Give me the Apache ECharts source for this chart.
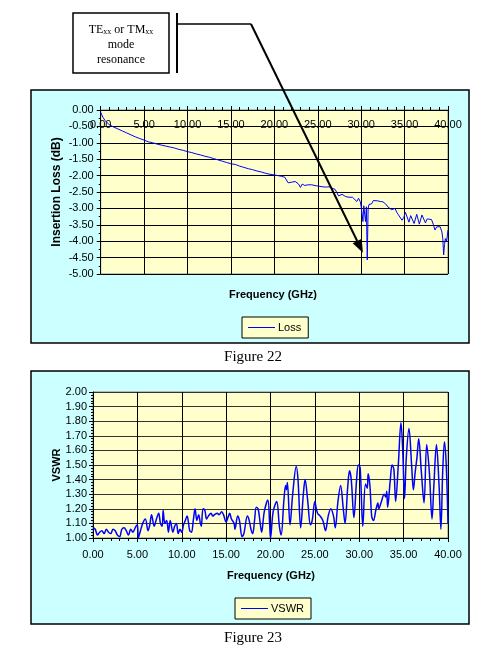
<!DOCTYPE html>
<html>
<head>
<meta charset="utf-8">
<script src="https://cdn.jsdelivr.net/npm/echarts@6/dist/echarts.min.js"></script>
<style>
html,body{margin:0;padding:0;background:#fff;}
#c{width:492px;height:658px;}
</style>
</head>
<body>
<div id="c"></div>
<script>
// ---------- DATA ----------
const xTickLabels = ['0.00','5.00','10.00','15.00','20.00','25.00','30.00','35.00','40.00'];

const lossFreq = [0,0.25,0.5,0.75,1,1.5,2,2.5,3,3.5,4,4.5,5,5.5,6,6.5,7,7.5,8,8.5,9,9.5,10,10.5,11,11.5,12,12.5,13,13.5,14,14.5,15,15.5,16,16.5,17,17.5,18,18.5,19,19.5,20,20.4,20.8,21.2,21.4,21.6,21.8,22.0,22.2,22.4,22.6,22.8,23.0,23.2,23.3,23.5,23.7,23.9,24.1,24.3,24.5,24.8,25.1,25.5,26.0,26.3,26.6,27.0,27.2,27.4,27.6,27.8,28.0,28.2,28.4,28.6,28.8,29.0,29.2,29.5,29.7,29.9,30.0,30.1,30.2,30.3,30.4,30.5,30.6,30.7,30.8,30.9,31.0,31.2,31.4,31.6,31.9,32.2,32.5,32.8,33.0,33.1,33.3,33.5,33.7,33.9,34.1,34.3,34.5,34.7,34.9,35.1,35.3,35.5,35.7,35.8,36.1,36.4,36.7,37.0,37.2,37.4,37.6,37.8,38.1,38.3,38.5,38.7,38.9,39.1,39.3,39.4,39.5,39.6,39.7,39.8,39.9,40.0];
const lossVal = [-0.07,-0.22,-0.32,-0.39,-0.45,-0.52,-0.58,-0.64,-0.70,-0.76,-0.82,-0.87,-0.92,-0.97,-1.00,-1.04,-1.07,-1.10,-1.13,-1.16,-1.20,-1.23,-1.27,-1.30,-1.34,-1.37,-1.41,-1.44,-1.48,-1.52,-1.56,-1.60,-1.64,-1.66,-1.71,-1.75,-1.79,-1.82,-1.86,-1.89,-1.93,-1.96,-1.98,-2.00,-2.02,-2.05,-2.08,-2.22,-2.16,-2.20,-2.24,-2.18,-2.14,-2.26,-2.36,-2.26,-2.22,-2.30,-2.36,-2.28,-2.22,-2.28,-2.34,-2.31,-2.32,-2.34,-2.35,-2.34,-2.38,-2.42,-2.44,-2.62,-2.60,-2.57,-2.62,-2.64,-2.58,-2.66,-2.72,-2.66,-2.70,-2.79,-2.69,-2.80,-2.95,-3.15,-3.40,-2.92,-2.88,-3.40,-2.95,-4.57,-3.00,-2.88,-2.92,-2.86,-2.76,-2.74,-2.77,-2.79,-2.80,-2.86,-2.90,-2.96,-2.92,-3.04,-2.98,-3.00,-3.12,-3.20,-3.26,-3.36,-3.28,-3.12,-3.18,-3.42,-3.22,-3.18,-3.46,-3.18,-3.48,-3.20,-3.24,-3.44,-3.32,-3.28,-3.34,-3.48,-3.66,-3.56,-3.52,-3.56,-3.72,-3.92,-4.42,-4.10,-3.92,-4.02,-3.88,-3.66];

const vswrFreq = [0,0.25,0.5,0.75,1.0,1.25,1.5,1.75,2.0,2.25,2.5,2.75,3.0,3.25,3.5,3.75,4.0,4.25,4.5,4.75,5.0,5.1,5.3,5.6,5.9,6.2,6.4,6.6,6.9,7.1,7.4,7.6,7.8,7.9,8.1,8.3,8.5,8.7,9.0,9.2,9.4,9.6,9.8,10.0,10.2,10.4,10.6,10.9,11.1,11.3,11.5,11.7,11.9,12.1,12.2,12.4,12.6,12.8,13.0,13.3,13.5,13.7,14.0,14.2,14.5,14.7,15.0,15.2,15.4,15.6,15.9,16.0,16.3,16.5,16.8,17.0,17.4,17.6,17.8,18.0,18.2,18.4,18.6,18.8,19.0,19.3,19.7,19.9,20.0,20.3,20.7,21.0,21.2,21.5,21.7,21.8,21.9,22.2,22.5,22.9,23.1,23.4,23.7,23.9,24.2,24.5,24.7,25.0,25.1,25.3,25.6,25.9,26.2,26.5,26.8,27.1,27.3,27.6,27.9,28.2,28.4,28.7,28.9,29.1,29.4,29.7,29.9,30.1,30.4,30.7,30.9,31.0,31.2,31.4,31.6,31.9,32.1,32.2,32.5,32.8,33.0,33.1,33.2,33.5,33.7,33.9,34.1,34.4,34.7,34.9,35.1,35.3,35.6,35.9,36.1,36.3,36.5,36.7,37.0,37.3,37.6,37.9,38.2,38.4,38.7,39.0,39.2,39.4,39.6,39.8,40.0];
const vswrVal = [1.07,1.06,1.02,1.04,1.05,1.03,1.06,1.04,1.03,1.06,1.05,1.02,1.01,1.06,1.07,1.05,1.02,1.06,1.04,1.07,1.09,1.00,1.04,1.10,1.13,1.05,1.09,1.16,1.08,1.12,1.17,1.10,1.08,1.19,1.10,1.12,1.04,1.12,1.04,1.08,1.10,1.03,1.06,1.04,1.09,1.12,1.15,1.05,1.04,1.12,1.20,1.12,1.16,1.10,1.08,1.20,1.19,1.13,1.15,1.17,1.15,1.16,1.17,1.16,1.18,1.16,1.11,1.14,1.17,1.13,1.10,1.06,1.15,1.12,1.01,1.03,1.15,1.12,1.06,1.03,1.12,1.21,1.20,1.12,1.04,1.18,1.26,1.10,1.00,1.18,1.25,1.08,1.02,1.25,1.36,1.33,1.38,1.09,1.30,1.49,1.40,1.07,1.30,1.40,1.25,1.09,1.12,1.25,1.22,1.17,1.15,1.12,1.05,1.15,1.20,1.15,1.07,1.25,1.36,1.20,1.10,1.35,1.46,1.40,1.14,1.40,1.50,1.48,1.08,1.37,1.34,1.44,1.36,1.15,1.12,1.20,1.24,1.20,1.25,1.30,1.28,1.32,1.21,1.40,1.50,1.47,1.25,1.50,1.79,1.60,1.27,1.55,1.75,1.50,1.33,1.45,1.55,1.68,1.45,1.24,1.64,1.45,1.13,1.35,1.64,1.35,1.06,1.45,1.66,1.50,1.10];

const resonancePoint = [30.2, -4.35];

// ---------- CHART ----------
const lossData = lossFreq.map((f, i) => [f, lossVal[i]]);
const vswrData = vswrFreq.map((f, i) => [f, vswrVal[i]]);
const SANS = 'Liberation Sans, Arial, sans-serif';
const SERIF = 'Liberation Serif, Times New Roman, serif';

const chart = echarts.init(document.getElementById('c'), null, {renderer: 'canvas'});

const fmt2 = v => v.toFixed(2);

const option = {
  animation: false,
  backgroundColor: '#ffffff',
  grid: [
    {left: 100.7, top: 110, width: 347.3, height: 164, show: true, backgroundColor: '#ffffcc', borderColor: '#808080', borderWidth: 1},
    {left: 93, top: 392, width: 355, height: 146, show: true, backgroundColor: '#ffffcc', borderColor: '#808080', borderWidth: 1}
  ],
  xAxis: [
    {gridIndex: 0, type: 'value', min: 0, max: 40, interval: 5, position: 'top',
     axisLine: {show: true, onZero: false, lineStyle: {color: '#000', width: 1}},
     axisTick: {show: true, length: 4, lineStyle: {color: '#000'}},
     minorTick: {show: true, splitNumber: 5, length: 3, lineStyle: {color: '#000'}},
     axisLabel: {inside: true, margin: 9, color: '#000', fontFamily: SANS, fontSize: 11, formatter: v => xTickLabels[Math.round(v / 5)]},
     splitLine: {show: true, lineStyle: {color: '#000', width: 1}}},
    {gridIndex: 1, type: 'value', min: 0, max: 40, interval: 5, position: 'bottom',
     axisLine: {show: true, onZero: false, lineStyle: {color: '#000', width: 1}},
     axisTick: {show: true, length: 4, lineStyle: {color: '#000'}},
     minorTick: {show: true, splitNumber: 5, length: 3, lineStyle: {color: '#000'}},
     axisLabel: {margin: 11, color: '#000', fontFamily: SANS, fontSize: 11, formatter: v => xTickLabels[Math.round(v / 5)]},
     splitLine: {show: true, lineStyle: {color: '#000', width: 1}}}
  ],
  yAxis: [
    {gridIndex: 0, type: 'value', min: -5, max: 0, interval: 0.5,
     axisLine: {show: true, lineStyle: {color: '#000', width: 1}},
     axisTick: {show: true, length: 4, lineStyle: {color: '#000'}},
     minorTick: {show: true, splitNumber: 2, length: 2, lineStyle: {color: '#000'}},
     axisLabel: {margin: 7, color: '#000', fontFamily: SANS, fontSize: 11, formatter: fmt2},
     splitLine: {show: true, lineStyle: {color: '#000', width: 1}}},
    {gridIndex: 1, type: 'value', min: 1, max: 2, interval: 0.1,
     axisLine: {show: true, lineStyle: {color: '#000', width: 1}},
     axisTick: {show: true, length: 4, lineStyle: {color: '#000'}},
     minorTick: {show: true, splitNumber: 5, length: 2, lineStyle: {color: '#000'}},
     axisLabel: {margin: 6, color: '#000', fontFamily: SANS, fontSize: 11, formatter: fmt2},
     splitLine: {show: true, lineStyle: {color: '#333', width: 1}}}
  ],
  legend: [
    {data: ['Loss'], left: 242, top: 317, orient: 'horizontal', icon: 'rect', itemWidth: 27, itemHeight: 1,
     itemGap: 4, padding: [5, 7, 5, 6], backgroundColor: '#ffffcc', borderColor: '#000', borderWidth: 1,
     textStyle: {color: '#000', fontFamily: SANS, fontSize: 11, padding: [0, 0, 0, -2]}},
    {data: ['VSWR'], left: 235, top: 598, orient: 'horizontal', icon: 'rect', itemWidth: 27, itemHeight: 1,
     itemGap: 4, padding: [5, 7, 5, 6], backgroundColor: '#ffffcc', borderColor: '#000', borderWidth: 1,
     textStyle: {color: '#000', fontFamily: SANS, fontSize: 11, padding: [0, 0, 0, -2]}}
  ],
  series: [
    {name: 'Loss', type: 'line', xAxisIndex: 0, yAxisIndex: 0, data: lossData, showSymbol: false, symbol: 'none',
     lineStyle: {color: '#0000ff', width: 1}, itemStyle: {color: '#0000ff'}, z: 5},
    {name: 'VSWR', type: 'line', xAxisIndex: 1, yAxisIndex: 1, data: vswrData, showSymbol: false, symbol: 'none',
     smooth: 0.35, lineStyle: {color: '#0000ff', width: 1.5}, itemStyle: {color: '#0000ff'}, z: 5}
  ]
};
chart.setOption(option);

// ---------- ANNOTATIONS ----------
const tip = chart.convertToPixel({xAxisIndex: 0, yAxisIndex: 0}, resonancePoint);
const start = [251, 24];
const dx = tip[0] - start[0], dy = tip[1] - start[1];
const L = Math.sqrt(dx * dx + dy * dy);
const ux = dx / L, uy = dy / L;
const headLen = 13, headW = 5;
const base = [tip[0] - ux * headLen, tip[1] - uy * headLen];
const p1 = [base[0] - uy * headW, base[1] + ux * headW];
const p2 = [base[0] + uy * headW, base[1] - ux * headW];

chart.setOption({
  graphic: [
    {type: 'rect', z: -10, shape: {x: 31, y: 90, width: 438, height: 253}, style: {fill: '#ccffff', stroke: '#000', lineWidth: 1.5}},
    {type: 'rect', z: -10, shape: {x: 31, y: 371, width: 438, height: 253}, style: {fill: '#ccffff', stroke: '#000', lineWidth: 1.5}},
    {type: 'text', z: 10, x: 57, y: 192, rotation: Math.PI / 2, style: {text: 'Insertion Loss (dB)', x: 0, y: 0, font: 'bold 12px ' + SANS, fill: '#000', textAlign: 'center', textVerticalAlign: 'middle'}},
    {type: 'text', z: 10, style: {text: 'Frequency (GHz)', x: 273, y: 295, font: 'bold 11px ' + SANS, fill: '#000', textAlign: 'center', textVerticalAlign: 'middle'}},
    {type: 'text', z: 10, x: 57, y: 465, rotation: Math.PI / 2, style: {text: 'VSWR', x: 0, y: 0, font: 'bold 11px ' + SANS, fill: '#000', textAlign: 'center', textVerticalAlign: 'middle'}},
    {type: 'text', z: 10, style: {text: 'Frequency (GHz)', x: 271, y: 576, font: 'bold 11px ' + SANS, fill: '#000', textAlign: 'center', textVerticalAlign: 'middle'}},
    {type: 'text', z: 10, style: {text: 'Figure 22', x: 253, y: 357, font: '15px ' + SERIF, fill: '#000', textAlign: 'center', textVerticalAlign: 'middle'}},
    {type: 'text', z: 10, style: {text: 'Figure 23', x: 253, y: 638, font: '15px ' + SERIF, fill: '#000', textAlign: 'center', textVerticalAlign: 'middle'}},
    // annotation box
    {type: 'rect', z: 20, shape: {x: 73, y: 13, width: 96, height: 60}, style: {fill: '#fff', stroke: '#000', lineWidth: 1.5}},
    {type: 'text', z: 21, style: {
      text: '{n|TE}{s|xx}{n| or TM}{s|xx}\n{n|mode}\n{n|resonance}',
      x: 121, y: 43, textAlign: 'center', textVerticalAlign: 'middle', fill: '#000',
      rich: {
        n: {fontFamily: SERIF, fontSize: 12, lineHeight: 15, fill: '#000', verticalAlign: 'bottom'},
        s: {fontFamily: SERIF, fontSize: 8, lineHeight: 15, fill: '#000', verticalAlign: 'bottom'}
      }
    }},
    {type: 'line', z: 20, shape: {x1: 177, y1: 13, x2: 177, y2: 73}, style: {stroke: '#000', lineWidth: 2}},
    {type: 'line', z: 20, shape: {x1: 177, y1: 24, x2: start[0], y2: start[1]}, style: {stroke: '#000', lineWidth: 1.5}},
    {type: 'line', z: 20, shape: {x1: start[0], y1: start[1], x2: base[0], y2: base[1]}, style: {stroke: '#000', lineWidth: 2}},
    {type: 'polygon', z: 20, shape: {points: [tip, p1, p2]}, style: {fill: '#000'}}
  ]
});
</script>
</body>
</html>
